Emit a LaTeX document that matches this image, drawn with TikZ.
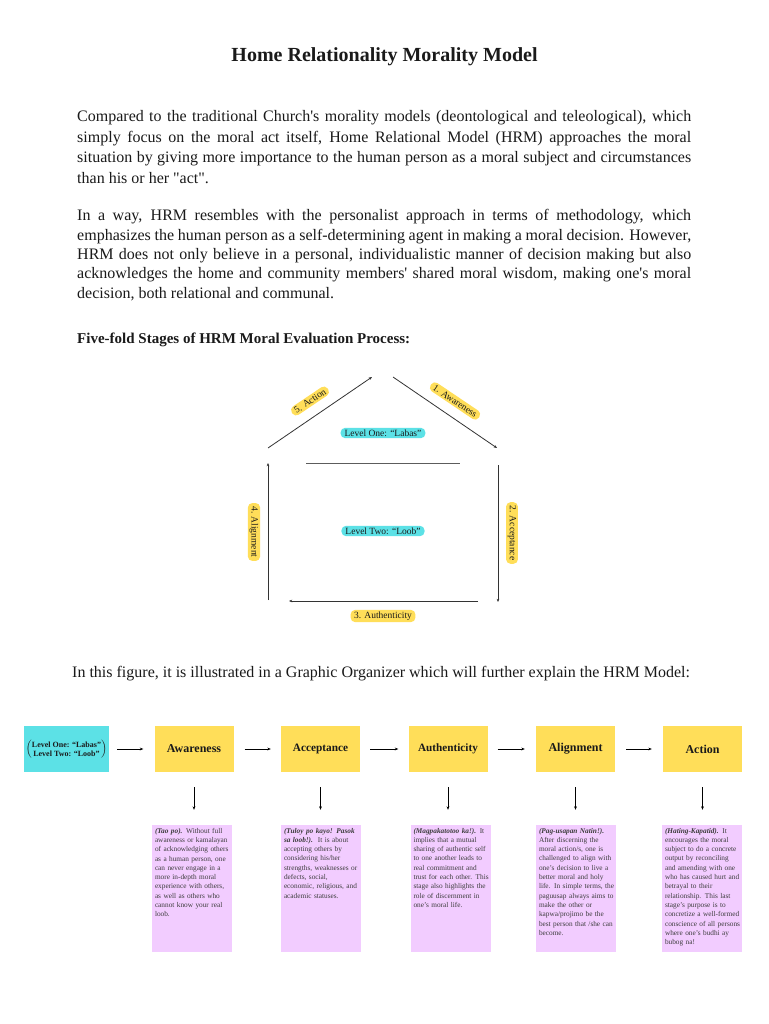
\documentclass[tikz,border=0pt]{standalone}
\usepackage{fontspec}
\usepackage{graphicx}
\newfontfamily\tnr{Liberation Serif}
\usetikzlibrary{arrows.meta}
\definecolor{cyanbox}{HTML}{5CE1E6}
\definecolor{yelbox}{HTML}{FFDE59}
\definecolor{pinkbox}{HTML}{F2CCFF}
\definecolor{inkc}{HTML}{1A1A1A}
\definecolor{linec}{HTML}{333333}
\begin{document}
\begin{tikzpicture}[x=1pt,y=-1pt,
  every node/.style={font=\tnr, text=inkc, inner sep=0pt},
  bodyline/.style={anchor=base west, font=\tnr\fontsize{16}{20}\selectfont},
  houseline/.style={draw=linec, line width=0.8pt},
  housearrow/.style={houseline, -{Stealth[length=3.2pt,width=2.6pt]}},
  yellab/.style={fill=yelbox, rounded corners=4.5pt, inner xsep=3.5pt, inner ysep=1.8pt, font=\tnr\fontsize{9.5}{11}\selectfont},
  cyanlab/.style={fill=cyanbox, rounded corners=4.5pt, inner xsep=4pt, inner ysep=1.8pt, font=\tnr\fontsize{9.5}{11}\selectfont},
  stagebox/.style={fill=yelbox, minimum width=79pt, minimum height=46pt, font=\tnr\bfseries\fontsize{12}{14}\selectfont},
  flowarrow/.style={draw=black, line width=0.8pt, -{Stealth[length=3.5pt,width=2.8pt]}},
  pinkpanel/.style={fill=pinkbox, minimum width=80pt, minimum height=127pt},
  pinktext/.style={anchor=north west, align=left, text width=78pt, text=inkc!85!white, font=\tnr\fontsize{7.3}{9.3}\selectfont}
]
\useasboundingbox (0,0) rectangle (768,1024);
\fill[white] (0,0) rectangle (768,1024);

% Title
\node[anchor=base, font=\tnr\bfseries\fontsize{20}{24}\selectfont] (title) at (384.5,62) {Home Relationality Morality Model};

% Paragraph 1
\node[bodyline] (p1a) at (77,122) {\makebox[614pt][s]{Compared to the traditional Church's morality models (deontological and teleological), which}};
\node[bodyline] (p1b) at (77,142.5) {\makebox[614pt][s]{simply focus on the moral act itself, Home Relational Model (HRM) approaches the moral}};
\node[bodyline] (p1c) at (77,163) {\makebox[614pt][s]{situation by giving more importance to the human person as a moral subject and circumstances}};
\node[bodyline] (p1d) at (77,183.5) {than his or her "act".};

% Paragraph 2
\node[bodyline] (p2a) at (77,221) {\makebox[614pt][s]{In a way, HRM resembles with the personalist approach in terms of methodology, which}};
\node[bodyline] (p2b) at (77,240.3) {\makebox[614pt][s]{emphasizes the human person as a self-determining agent in making a moral decision. However,}};
\node[bodyline] (p2c) at (77,259.6) {\makebox[614pt][s]{HRM does not only believe in a personal, individualistic manner of decision making but also}};
\node[bodyline] (p2d) at (77,278.9) {\makebox[614pt][s]{acknowledges the home and community members' shared moral wisdom, making one's moral}};
\node[bodyline] (p2e) at (77,298.2) {decision, both relational and communal.};

% Heading
\node[anchor=base west, font=\tnr\bfseries\fontsize{15}{18}\selectfont] (head) at (77,343) {Five-fold Stages of HRM Moral Evaluation Process:};

% House diagram
\coordinate (rl1) at (268,448); \coordinate (rl2) at (372,377);
\coordinate (rr1) at (393,377); \coordinate (rr2) at (497,448);
\coordinate (vr1) at (498,465); \coordinate (vr2) at (498,602);
\coordinate (bt1) at (478,601); \coordinate (bt2) at (289,601);
\coordinate (vl1) at (268,600); \coordinate (vl2) at (268,463);
\coordinate (cl1) at (306,463); \coordinate (cl2) at (460,463);
\draw[housearrow] (rl1) -- (rl2);
\draw[housearrow] (rr1) -- (rr2);
\draw[housearrow] (vr1) -- (vr2);
\draw[housearrow] (bt1) -- (bt2);
\draw[housearrow] (vl1) -- (vl2);
\draw[houseline, draw=linec!80!white] (cl1) -- (cl2);

\node[yellab, rotate=34] (s5) at (310,401) {5. Action};
\node[yellab, rotate=-34] (s1) at (455,401) {1. Awareness};
\node[yellab, rotate=-90] (s2) at (512,533) {2. Acceptance};
\node[yellab, rotate=-90] (s4) at (254,532) {4. Alignment};
\node[yellab] (s3) at (383,616) {3. Authenticity};
\node[cyanlab] (lv1) at (383,433) {Level One: “Labas”};
\node[cyanlab] (lv2) at (383,531) {Level Two: “Loob”};

% Intro to organizer
\node[bodyline] (intro) at (72,677) {In this figure, it is illustrated in a Graphic Organizer which will further explain the HRM Model:};

% Organizer row
\node[fill=cyanbox, minimum width=85pt, minimum height=46pt, font=\tnr\bfseries\fontsize{8}{11.5}\selectfont] (lv) at (66.5,749)
  {$\left(\vcenter{\hbox{\shortstack{Level One: “Labas”\\Level Two: “Loob”}}}\right)$};
\node[stagebox] (aw) at (194,749) {Awareness};
\node[stagebox, font=\tnr\bfseries\fontsize{11.3}{14}\selectfont] (ac) at (320.5,749) {Acceptance};
\node[stagebox, font=\tnr\bfseries\fontsize{11.2}{14}\selectfont] (au) at (448,749) {Authenticity};
\node[stagebox] (al) at (575.5,749) {Alignment};
\node[stagebox] (at) at (702.5,749) {Action};

\draw[flowarrow, shorten <=8pt, shorten >=11pt] (lv) -- (aw);
\draw[flowarrow, shorten <=11pt, shorten >=10pt] (aw) -- (ac);
\draw[flowarrow, shorten <=10pt, shorten >=10pt] (ac) -- (au);
\draw[flowarrow, shorten <=10pt, shorten >=11pt] (au) -- (al);
\draw[flowarrow, shorten <=11pt, shorten >=11pt] (al) -- (at);

% Pink panels
\node[pinkpanel] (d1) at (192,888.5) {};
\node[pinkpanel] (d2) at (321,888.5) {};
\node[pinkpanel] (d3) at (450.5,888.5) {};
\node[pinkpanel] (d4) at (576,888.5) {};
\node[pinkpanel] (d5) at (702,888.5) {};

\draw[flowarrow, shorten <=15pt, shorten >=15pt] (aw.south) -- (aw.south |- d1.north);
\draw[flowarrow, shorten <=15pt, shorten >=15pt] (ac.south) -- (ac.south |- d2.north);
\draw[flowarrow, shorten <=15pt, shorten >=15pt] (au.south) -- (au.south |- d3.north);
\draw[flowarrow, shorten <=15pt, shorten >=15pt] (al.south) -- (al.south |- d4.north);
\draw[flowarrow, shorten <=15pt, shorten >=15pt] (at.south) -- (at.south |- d5.north);

\node[pinktext] (t1) at ([shift={(3,3)}]d1.north west) {\textbf{\textit{(Tao po).}} Without full\\awareness or kamalayan\\of acknowledging others\\as a human person, one\\can never engage in a\\more in-depth moral\\experience with others,\\as well as others who\\cannot know your real\\loob.};
\node[pinktext] (t2) at ([shift={(3,3)}]d2.north west) {\textbf{\textit{(Tuloy po kayo! Pasok\\sa loob!).}}\ \ It is about\\accepting others by\\considering his/her\\strengths, weaknesses or\\defects, social,\\economic, religious, and\\academic statuses.};
\node[pinktext] (t3) at ([shift={(3,3)}]d3.north west) {\textbf{\textit{(Magpakatotoo ka!).}} It\\implies that a mutual\\sharing of authentic self\\to one another leads to\\real commitment and\\trust for each other. This\\stage also highlights the\\role of discernment in\\one’s moral life.};
\node[pinktext] (t4) at ([shift={(3,3)}]d4.north west) {\textbf{\textit{(Pag-usapan Natin!).}}\\After discerning the\\moral action/s, one is\\challenged to align with\\one’s decision to live a\\better moral and holy\\life. In simple terms, the\\paguusap always aims to\\make the other or\\kapwa/projimo be the\\best person that /she can\\become.};
\node[pinktext] (t5) at ([shift={(3,3)}]d5.north west) {\textbf{\textit{(Hating-Kapatid).}} It\\encourages the moral\\subject to do a concrete\\output by reconciling\\and amending with one\\who has caused hurt and\\betrayal to their\\relationship. This last\\stage’s purpose is to\\concretize a well-formed\\conscience of all persons\\where one’s budhi ay\\bubog na!};
\end{tikzpicture}
\end{document}
